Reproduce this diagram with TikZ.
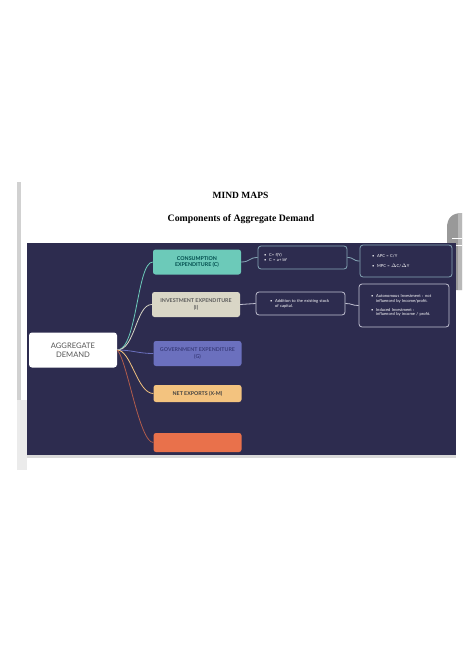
\documentclass[tikz,border=0pt]{standalone}
\usepackage{fontspec}
\setmainfont{Liberation Serif}
\newfontfamily\boxfont{Lato}
\usetikzlibrary{positioning}
\definecolor{panel}{HTML}{2D2C4F}
\definecolor{cteal}{HTML}{6CCAB9}
\definecolor{ibeige}{HTML}{D9D6C6}
\definecolor{gblue}{HTML}{6B70BE}
\definecolor{nexp}{HTML}{F3C37F}
\definecolor{rorange}{HTML}{E9714B}
\definecolor{cline}{HTML}{86A7B6}
\definecolor{iline}{HTML}{C3C3D3}
\definecolor{adtext}{HTML}{555555}
\definecolor{gtext}{HTML}{3B3E7E}
\newcommand{\bul}{\textbullet\ \ }
\newcommand{\ind}{\phantom{\textbullet\ \ }}
\tikzset{
  mainbox/.style={draw=none, rounded corners=2.5pt, minimum width=88pt, minimum height=25pt, align=center, inner sep=1pt,
    font=\boxfont\fontsize{5.3}{6.4}\selectfont\bfseries},
  detailbox/.style={draw, line width=0.8pt, rounded corners=3pt, align=left, inner ysep=2pt, text=white,
    font=\boxfont\fontsize{4.1}{4.9}\selectfont},
  conn/.style={line width=0.8pt},
}
\begin{document}
\begin{tikzpicture}[x=1pt,y=-1pt]
\useasboundingbox (0,0) rectangle (474,669);
\fill[white] (0,0) rectangle (474,669);
% left grey bar
\fill[black!18] (17,182) rectangle (20.5,400);
\fill[black!8] (17,400) rectangle (27,470);
% right grey tab
\fill[black!40] (447,290) -- (447,228) .. controls (447,218) and (452,213) .. (462,213) -- (462,290) -- cycle;
\fill[black!28] (458,213) rectangle (462,290);
\draw[white, line width=0.8pt] (452,238) -- (462,238);
\draw[white, line width=0.8pt] (452,245) -- (462,245);
% panel
\fill[panel] (27,243) rectangle (456,455);
\fill[black!15] (27,455) rectangle (456,458);
% title
\node (t1) at (240.5,195) {\fontsize{9.5}{11}\selectfont\bfseries MIND MAPS};
\node (t2) at (241,219) {\fontsize{9.8}{11}\selectfont\bfseries Components of Aggregate Demand};
% main nodes
\node[fill=white, rounded corners=3pt, minimum width=88pt, minimum height=35pt, align=center, text=adtext,
  font=\boxfont\fontsize{7.6}{9}\selectfont] (ad) at (73,350) {AGGREGATE\\DEMAND};
\node[mainbox, fill=cteal, text=teal!60!black] (c) at (197,262) {CONSUMPTION\\EXPENDITURE (C)};
\node[mainbox, fill=ibeige, text=black!65] (i) at (196,304.5) {INVESTMENT EXPENDITURE\\(I)};
\node[mainbox, fill=gblue, text=gtext] (g) at (197.5,353.5) {GOVERNMENT EXPENDITURE\\(G)};
\node[mainbox, fill=nexp, text=black!75, minimum height=17pt] (n) at (197.5,393.5) {NET EXPORTS (X-M)};
\node[mainbox, fill=rorange, minimum height=19pt] (r) at (197.5,442.5) {};
% detail boxes
\node[detailbox, draw=cline, inner xsep=6pt, text width=77pt, minimum height=23pt] (c1) at (302.5,257.5)
  {\bul C= f(Y)\\\bul C = a+ bY};
\node[detailbox, draw=cline, inner xsep=12pt, text width=68pt, minimum height=32pt] (c2) at (406,261)
  {\bul APC = C/Y\\[5pt]\bul MPC = $\Delta$C/$\Delta$Y};
\node[detailbox, draw=iline, inner xsep=14pt, text width=61pt, minimum height=23pt] (i1) at (300.5,303.5)
  {\bul Addition to the existing stock\\\ind of capital.};
\node[detailbox, draw=iline, inner xsep=12pt, text width=66pt, minimum height=43pt] (i2) at (404,305.5)
  {\bul Autonomous Investment : not\\\ind influenced by Income/profit.\\[4pt]\bul Induced Investment :\\\ind influenced by income / profit.};
% connectors
\draw[conn, cteal] (ad.east) .. controls +(20,0) and +(-16,0) .. (c.west);
\draw[conn, ibeige] (ad.east) .. controls +(18,0) and +(-16,0) .. (i.west);
\draw[conn, gblue] (ad.east) .. controls +(15,0) and +(-15,0) .. (g.west);
\draw[conn, nexp] (ad.east) .. controls +(14,0) and +(-16,0) .. (n.west);
\draw[conn, rorange!70!panel] (ad.east) .. controls +(10,10) and +(-14,0) .. (r.west);
\draw[conn, cline] (c.east) .. controls +(9,0) and +(-9,0) .. (c1.west);
\draw[conn, cline] (c1.east) .. controls +(7,0) and +(-7,0) .. (c2.west);
\draw[conn, iline] (i.east) -- (i1.west);
\draw[conn, iline] (i1.east) .. controls +(7,0) and +(-7,0) .. (i2.west);
\end{tikzpicture}
\end{document}
